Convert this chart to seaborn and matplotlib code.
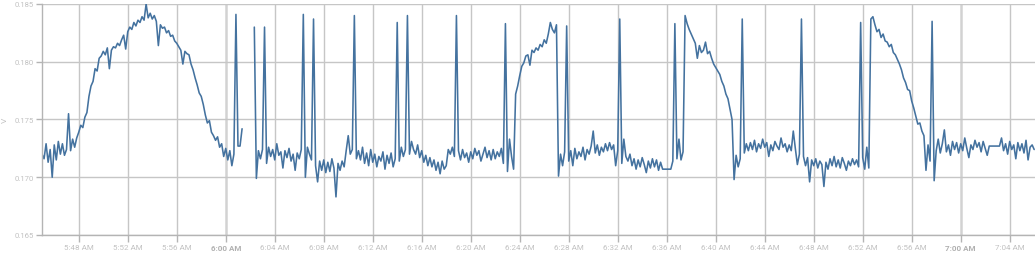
import numpy as np
import pandas as pd
import matplotlib
matplotlib.use("Agg")
import matplotlib.pyplot as plt
import seaborn as sns

# ---- data: one reading every 10 s starting 5:45 AM (values in mV) ----
start_time = "2020-01-01 05:45:00"
sample_seconds = 10
readings_mv = [
    # 5:45
    172.0, 171.6, 172.9, 171.3, 172.4, 170.0,
    172.8, 171.5, 173.1, 172.0, 172.9, 171.9,
    172.4, 175.5, 172.3, 173.3, 172.6, 173.4,
    173.9, 174.5, 174.3, 175.2, 175.6, 177.0,
    177.9, 178.3, 179.4, 179.2, 180.3, 180.5,
    # 5:50
    180.9, 180.6, 181.2, 179.4, 181.0, 181.3,
    181.2, 181.6, 181.4, 181.9, 182.3, 181.1,
    182.6, 183.0, 182.8, 183.4, 183.1, 183.6,
    183.4, 183.9, 183.6, 185.0, 183.8, 184.2,
    183.7, 184.0, 183.5, 181.4, 183.2, 182.9,
    # 5:55
    183.0, 182.5, 182.7, 182.2, 182.3, 181.8,
    181.6, 181.3, 181.0, 179.8, 180.9, 180.7,
    180.6, 179.8, 179.3, 178.6, 178.0, 177.3,
    177.0, 176.3, 175.4, 174.7, 174.9, 173.9,
    173.6, 173.2, 173.5, 172.6, 172.9, 171.8,
    # 6:00
    172.5, 171.5, 172.3, 171.0, 172.0, 184.1,
    172.7, 172.7, 174.2, None, None, None,
    None, None, 183.0, 169.9, 172.3, 171.6,
    172.4, 183.0, 171.2, 172.6, 171.8, 172.4,
    171.5, 172.9, 171.9, 172.2, 170.8, 172.3,
    # 6:05
    171.7, 172.5, 171.4, 172.0, 170.6, 172.1,
    171.6, 172.4, 184.1, 170.0, 172.6, 172.0,
    171.5, 183.7, 171.0, 169.6, 171.4, 170.6,
    171.5, 170.4, 171.3, 170.5, 171.6, 170.8,
    168.3, 171.2, 170.6, 171.4, 170.9, 172.3,
    # 6:10
    173.6, 172.0, 172.4, 184.0, 171.6, 172.3,
    171.5, 172.6, 171.2, 172.1, 171.0, 172.4,
    171.3, 172.0, 170.9, 171.8, 171.4, 172.2,
    170.7, 171.9, 171.2, 172.1, 170.9, 171.6,
    183.4, 171.4, 172.6, 171.8, 172.4, 184.0,
    # 6:15
    172.0, 173.1, 172.4, 172.0, 172.8, 171.7,
    172.3, 171.3, 171.9, 171.0, 171.7, 170.9,
    171.5, 170.6, 171.3, 170.3, 171.4, 170.7,
    171.0, 172.4, 172.0, 172.6, 171.8, 184.0,
    172.3, 171.5, 172.4, 171.7, 172.1, 171.3,
    # 6:20
    172.2, 171.6, 172.5, 171.9, 172.3, 171.4,
    172.0, 172.6, 171.7, 172.3, 171.5, 172.4,
    171.6, 172.2, 171.8, 172.5, 171.2, 183.3,
    170.5, 173.3, 171.8, 170.7, 177.2, 177.9,
    178.8, 179.6, 179.9, 180.5, 180.6, 179.7,
    # 6:25
    181.0, 180.8, 181.2, 181.0, 181.5, 181.3,
    181.9, 181.6, 182.4, 183.4, 182.8, 182.5,
    183.2, 170.1, 172.0, 171.0, 172.2, 183.1,
    171.4, 172.3, 171.0, 172.5, 171.6, 172.2,
    171.8, 172.6, 171.5, 172.4, 172.0, 172.7,
    # 6:30
    174.0, 172.1, 172.8, 171.9, 172.6, 172.2,
    172.9, 172.3, 173.0, 172.4, 172.8, 171.0,
    172.3, 183.7, 171.2, 173.3, 171.8, 171.4,
    172.0, 171.0, 171.6, 170.7, 171.5, 170.9,
    171.7, 171.1, 170.4, 171.4, 170.8, 171.6,
    # 6:35
    170.9, 171.5, 170.6, 171.3, 170.7, 170.7,
    170.7, 170.7, 170.7, 171.4, 183.3, 171.6,
    173.3, 171.5, 172.2, 184.0, 183.3, 182.8,
    182.4, 182.0, 181.6, 180.3, 181.4, 180.8,
    181.0, 181.7, 180.7, 180.9, 180.3, 179.8,
    # 6:40
    179.5, 179.2, 178.9, 178.3, 177.9, 177.2,
    176.8, 175.9, 175.0, 169.8, 171.9, 170.9,
    171.6, 183.7, 172.1, 172.9, 172.3, 173.0,
    172.4, 173.2, 172.2, 172.9, 172.5, 173.3,
    172.6, 173.0, 171.8, 172.8, 172.3, 173.1,
    # 6:45
    172.7, 172.4, 173.4, 172.6, 172.9, 172.2,
    172.8, 172.3, 174.0, 172.5, 171.1, 172.0,
    183.7, 171.8, 171.0, 171.7, 169.6, 171.5,
    171.0, 171.6, 170.8, 171.4, 171.1, 169.2,
    171.3, 170.7, 171.6, 171.0, 171.8, 170.9,
    # 6:50
    171.5, 170.8, 171.7, 171.2, 170.6, 171.4,
    171.0, 171.6, 171.1, 171.5, 170.9, 183.4,
    171.7, 170.7, 172.6, 170.8, 183.7, 183.9,
    183.2, 182.6, 182.8, 182.1, 182.4, 181.8,
    181.7, 181.3, 181.5, 180.8, 180.6, 180.2,
    # 6:55
    179.8, 179.3, 178.6, 178.2, 177.6, 177.5,
    176.6, 176.0, 175.3, 174.6, 174.7, 174.0,
    173.6, 170.6, 172.8, 171.4, 183.5, 169.7,
    172.3, 173.3, 172.1, 172.9, 174.1, 172.2,
    172.8, 171.9, 173.1, 172.4, 173.0, 172.1,
    # 7:00
    172.9, 172.3, 173.4, 172.5, 171.7, 172.8,
    172.4, 173.2, 172.6, 173.0, 172.2, 173.1,
    172.5, 171.9, 172.7, 172.7, 172.7, 172.7,
    172.7, 172.7, 173.4, 172.3, 172.9, 172.0,
    173.1, 172.4, 172.8, 171.6, 173.0, 172.3,
    # 7:05
    172.9, 172.1, 173.2, 171.5, 172.6, 172.8,
    172.4,
]

y_ticks = [0.165, 0.170, 0.175, 0.180, 0.185]
x_tick_start = "2020-01-01 05:48:00"
x_tick_end = "2020-01-01 07:04:00"
x_limits = ("2020-01-01 05:45:00", "2020-01-01 07:06:04")

# ---- build frame ----
times = pd.date_range(start_time, periods=len(readings_mv), freq=f"{sample_seconds}s")
df = pd.DataFrame({"time": times,
                   "V": pd.Series(readings_mv, dtype="float") / 1000.0})
df["segment"] = df["V"].isna().cumsum()
df = df.dropna()

sns.set_theme(style="white")
plt.rcParams["font.family"] = ["Roboto", "DejaVu Sans"]

fig = plt.figure(figsize=(10.35, 2.55), dpi=100)
ax = fig.add_axes([42 / 1035, 1 - 236 / 255, 1 - 42 / 1035, (236 - 5) / 255])

line_color = "#44729f"
for _, seg in df.groupby("segment"):
    sns.lineplot(data=seg, x="time", y="V", ax=ax, color=line_color,
                 linewidth=1.15, estimator=None, sort=False, legend=False)

ax.set_xlim(pd.Timestamp(x_limits[0]), pd.Timestamp(x_limits[1]))
ax.set_ylim(y_ticks[0], y_ticks[-1])

xt = pd.date_range(x_tick_start, x_tick_end, freq="4min")
labels = [f"{t.hour % 12 or 12}:{t.minute:02d} {'AM' if t.hour < 12 else 'PM'}" for t in xt]
ax.set_xticks(xt)
ax.set_xticklabels(labels)
ax.set_yticks(y_ticks)
ax.set_yticklabels([f"{v:.3f}" for v in y_ticks])

grid_c = "#c6c6c6"
ax.grid(True, color=grid_c, linewidth=1.0)
ax.set_axisbelow(True)
for t, gl in zip(xt, ax.get_xgridlines()):
    if t.minute == 0:
        gl.set_linewidth(1.8)
        gl.set_color("#d2d2d2")

for s in ["top", "right"]:
    ax.spines[s].set_visible(False)
for s in ["left", "bottom"]:
    ax.spines[s].set_color("#b4b4b4")
    ax.spines[s].set_linewidth(1.0)

ax.tick_params(axis="x", length=5, width=1, color="#b4b4b4", labelsize=5.8,
               labelcolor="#c2c2c2", pad=1.5, direction="out", bottom=True)
ax.tick_params(axis="y", length=4, width=1, color="#b4b4b4", labelsize=5.6,
               labelcolor="#c2c2c2", pad=1.5, direction="out", left=True)
for t, lab in zip(xt, ax.get_xticklabels()):
    if t.minute == 0:
        lab.set_fontweight("bold")
        lab.set_color("#b0b0b0")

ax.set_xlabel("")
ax.set_ylabel("V", color="#c2c2c2", fontsize=6, labelpad=5)

fig.savefig("out.png", dpi=100)
